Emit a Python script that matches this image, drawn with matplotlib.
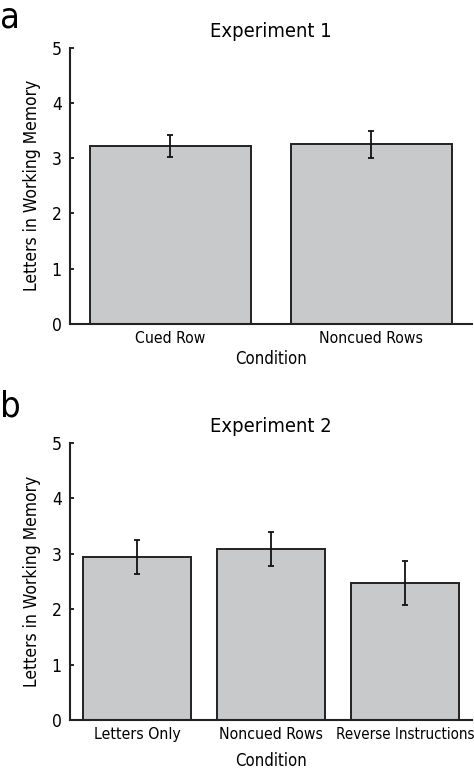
import matplotlib
matplotlib.use('Agg')
import matplotlib.pyplot as plt
from matplotlib import font_manager

# police étroite si disponible
names = set(f.name for f in font_manager.fontManager.ttflist)
if 'Liberation Sans Narrow' in names:
    plt.rcParams['font.family'] = ['Liberation Sans Narrow', 'DejaVu Sans']
else:
    plt.rcParams['font.family'] = ['DejaVu Sans']
    plt.rcParams['font.stretch'] = 'condensed'

# Données
exp1_conditions = ['Cued Row', 'Noncued Rows']
exp1_means = [3.22, 3.25]
exp1_errors = [0.20, 0.24]

exp2_conditions = ['Letters Only', 'Noncued Rows', 'Reverse Instructions']
exp2_means = [2.94, 3.08, 2.47]
exp2_errors = [0.30, 0.31, 0.40]

bar_color = '#c8c9cb'

fig = plt.figure(figsize=(4.74, 7.69), dpi=100)
ax1 = fig.add_axes([0.1477, 0.5787, 0.848, 0.3593])
ax2 = fig.add_axes([0.1477, 0.0637, 0.848, 0.3606])

def draw_panel(ax, conditions, means, errors, title, xlabelpad):
    x = range(len(conditions))
    ax.bar(x, means, width=0.8, color=bar_color, edgecolor='#222222', linewidth=1.4)
    ax.errorbar(x, means, yerr=errors, fmt='none', ecolor='#111111',
                elinewidth=1.3, capsize=2.5, capthick=1.3)
    ax.set_xlim(-0.5, len(conditions) - 0.5)
    ax.set_ylim(0, 5)
    ax.set_yticks([0, 1, 2, 3, 4, 5])
    ax.set_xticks(list(x))
    ax.set_xticklabels(conditions, fontsize=11.3)
    ax.tick_params(axis='y', direction='in', length=3, width=1.2, labelsize=12.5, pad=6)
    ax.tick_params(axis='x', length=0, pad=5)
    for s in ['top', 'right']:
        ax.spines[s].set_visible(False)
    for s in ['left', 'bottom']:
        ax.spines[s].set_linewidth(1.5)
        ax.spines[s].set_color('#222222')
    ax.set_title(title, fontsize=14.5, pad=8)
    ax.set_ylabel('Letters in Working Memory', fontsize=12.5, labelpad=8)
    ax.set_xlabel('Condition', fontsize=12, labelpad=xlabelpad)

draw_panel(ax1, exp1_conditions, exp1_means, exp1_errors, 'Experiment 1', 3)
draw_panel(ax2, exp2_conditions, exp2_means, exp2_errors, 'Experiment 2', 7)

# dernière étiquette collée au bord comme dans l'original
ax2.get_xticklabels()[-1].set_fontsize(10.8)

fig.text(0.0, 1.0, 'a', fontsize=26, va='top', ha='left')
fig.text(0.0, 0.493, 'b', fontsize=26, va='top', ha='left')

plt.savefig('out.png', dpi=100)
